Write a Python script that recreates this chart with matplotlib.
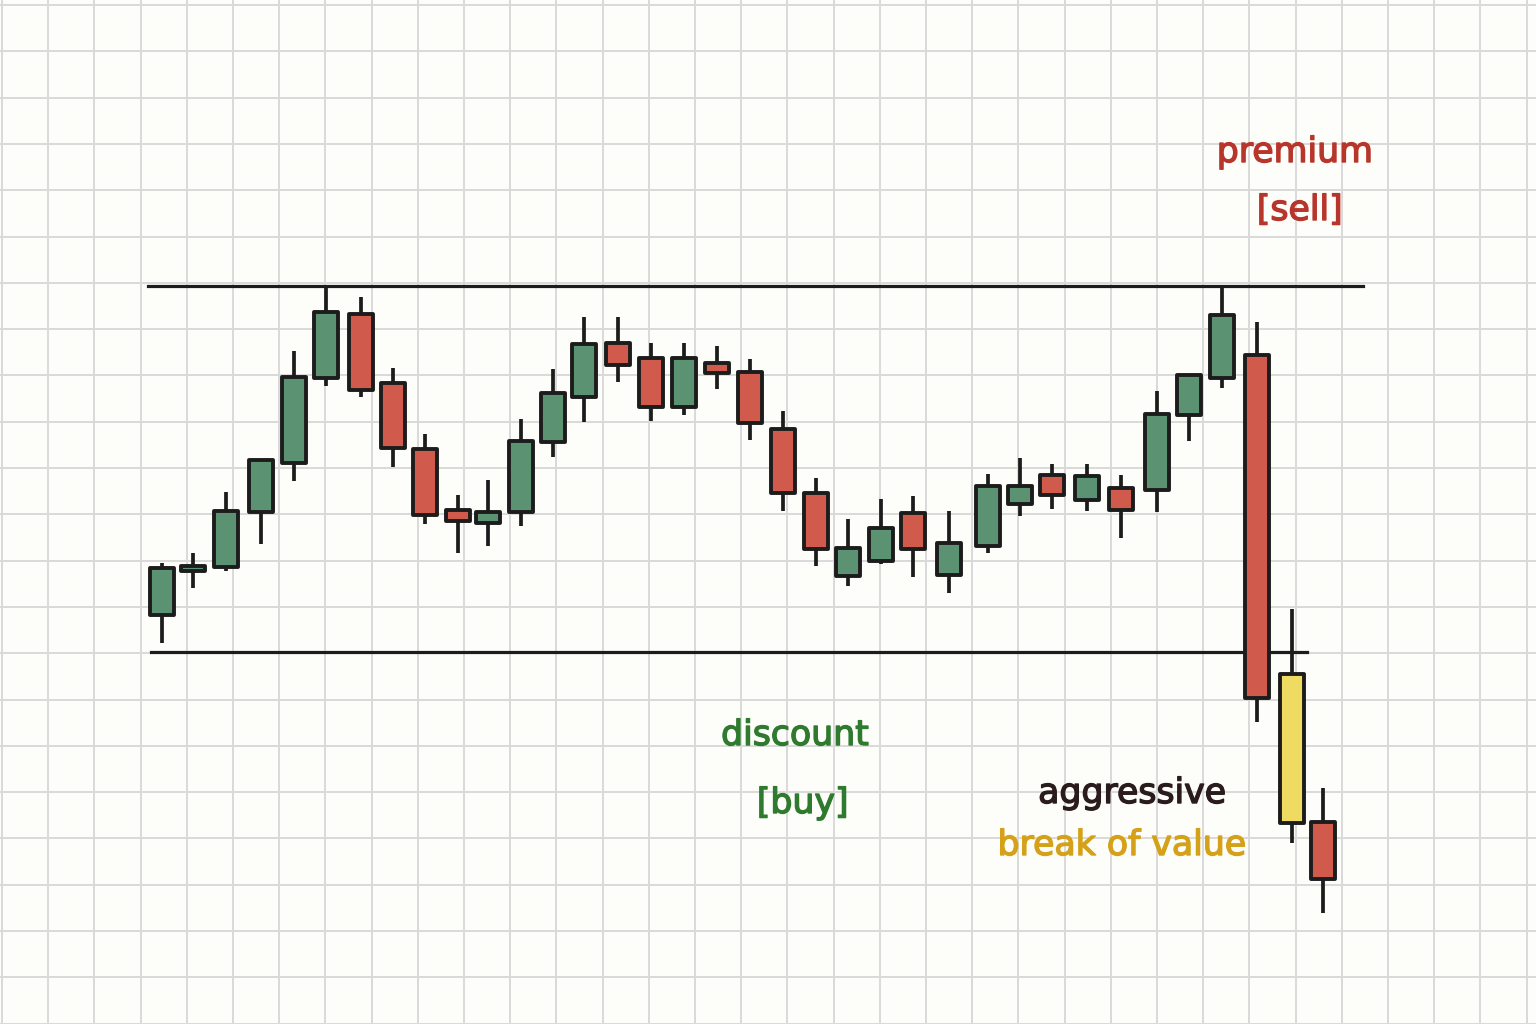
import numpy as np
import matplotlib
matplotlib.use('Agg')
import matplotlib.pyplot as plt
import matplotlib.patheffects as pe
from matplotlib.patches import Rectangle

# Данные свечей: время (в условных периодах) и цены
times = [0.0, 0.94, 1.94, 3.0, 4.0, 4.97, 6.03, 7.0, 7.97, 8.97, 9.88, 10.88,
         11.85, 12.79, 13.82, 14.82, 15.82, 16.82, 17.82, 18.82, 19.82, 20.79, 21.79, 22.76,
         23.85, 25.03, 26.0, 26.97, 28.03, 29.06, 30.15, 31.12, 32.12, 33.18, 34.24, 35.18]
opens = [40.9, 45.3, 45.7, 51.2, 56.1, 64.6, 71.0, 64.1, 57.5, 51.4, 50.1, 51.2,
         58.2, 62.7, 68.1, 66.6, 61.7, 66.1, 65.2, 59.5, 53.1, 44.8, 46.3, 51.1,
         44.9, 47.8, 52.0, 54.9, 52.4, 53.6, 53.4, 60.9, 64.6, 66.9, 35.0, 20.2]
highs = [46.1, 47.1, 53.2, 56.4, 67.3, 73.7, 72.7, 65.6, 59.0, 52.9, 54.4, 60.5,
         65.5, 70.7, 70.7, 68.1, 68.1, 67.8, 66.5, 61.3, 54.6, 50.5, 52.5, 52.8,
         51.3, 55.0, 56.6, 56.0, 56.0, 54.9, 63.3, 64.9, 73.8, 70.2, 41.5, 23.6]
lows = [38.1, 43.6, 45.3, 48.0, 54.3, 63.8, 62.7, 55.7, 50.0, 47.1, 47.8, 49.8,
        56.7, 60.2, 64.2, 60.3, 60.9, 63.5, 58.4, 51.3, 45.8, 43.8, 46.0, 44.7,
        43.1, 47.1, 50.8, 51.5, 51.3, 48.6, 51.2, 58.3, 63.6, 30.2, 18.1, 11.1]
closes = [45.6, 45.8, 51.3, 56.4, 64.7, 71.2, 63.4, 57.6, 50.9, 50.3, 51.2, 58.3,
          63.1, 68.0, 65.9, 61.7, 66.6, 65.1, 60.1, 53.1, 47.5, 47.6, 49.6, 47.5,
          48.1, 53.8, 53.8, 52.9, 54.8, 51.4, 61.0, 64.9, 70.9, 32.6, 20.1, 14.5]
# особая свеча (пробой)
highlight_idx = [34]

# Уровни диапазона
range_high = 73.8
range_low = 37.2

# Подписи
labels = ['premium', '[sell]', 'discount', '[buy]', 'aggressive', 'break of value']

BG = '#fdfdf9'
GRID = '#dadada'
EDGE = '#1c1c1c'
GREEN = '#5b9272'
RED = '#d05a4b'
YELLOW = '#efda62'

fig = plt.figure(figsize=(15.36, 10.24), dpi=100)
fig.patch.set_facecolor(BG)

# Фон в клетку
bg = fig.add_axes([0, 0, 1, 1])
bg.set_xlim(0, 1536)
bg.set_ylim(1024, 0)
bg.set_facecolor(BG)
for gx in np.arange(2, 1536, 46.2):
    bg.axvline(gx, color=GRID, lw=1.4, zorder=0)
for gy in np.arange(5, 1024, 46.3):
    bg.axhline(gy, color=GRID, lw=1.4, zorder=0)
bg.axis('off')

# Основной график
ax = fig.add_axes([0, 0, 1, 1])
ax.patch.set_alpha(0)
ax.set_xlim(-162 / 33, (1536 - 162) / 33)
ax.set_ylim(0, 102.4)
ax.axis('off')

# Линии диапазона
ax.plot([-0.42, 36.4], [range_high, range_high], color=EDGE, lw=2.3, zorder=2)
ax.plot([-0.33, 34.7], [range_low, range_low], color=EDGE, lw=2.3, zorder=2)

width = 0.72
for i, (t, o, h, l, c) in enumerate(zip(times, opens, highs, lows, closes)):
    if i in highlight_idx:
        fill = YELLOW
    elif c >= o:
        fill = GREEN
    else:
        fill = RED
    ax.plot([t, t], [l, h], color=EDGE, lw=2.7, solid_capstyle='butt', zorder=3)
    bottom = min(o, c)
    height = max(abs(c - o), 0.5)
    ax.add_patch(Rectangle((t - width / 2, bottom), width, height,
                           facecolor=fill, edgecolor=EDGE, lw=2.8,
                           joinstyle='round', zorder=4))

# Текстовые аннотации
font = ['DejaVu Sans']
kw = dict(fontsize=25, ha='center', va='center', family=font)


def note(x, y, s, color):
    txt = ax.text(x, y, s, color=color, **kw)
    txt.set_path_effects([pe.withStroke(linewidth=1.0, foreground=color)])


note(34.33, 87.2, labels[0], '#b8352b')
note(34.48, 81.4, labels[1], '#b8352b')
note(19.18, 28.9, labels[2], '#2e7a2e')
note(19.42, 22.1, labels[3], '#2e7a2e')
note(29.4, 23.1, labels[4], '#2a1c1c')
note(29.09, 17.9, labels[5], '#d4a118')

fig.savefig('out.png', dpi=100, facecolor=BG)
plt.close(fig)
